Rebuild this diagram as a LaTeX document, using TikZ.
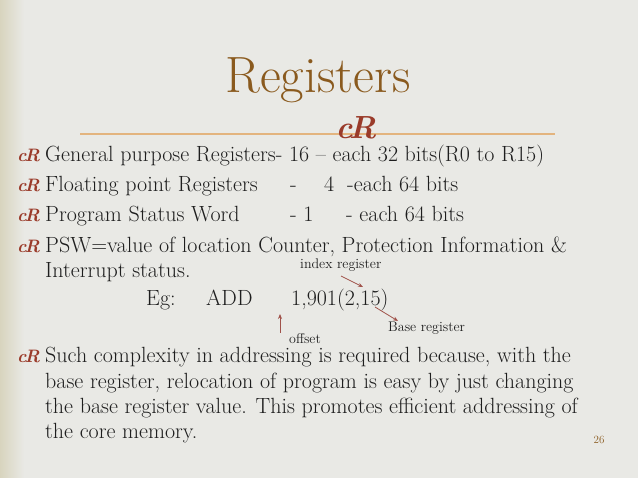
\documentclass[tikz,border=0pt]{standalone}
\usetikzlibrary{arrows.meta}
\definecolor{bg}{HTML}{E9E9E5}
\definecolor{band}{HTML}{D8D4BE}
\definecolor{titlec}{HTML}{8A5A1E}
\definecolor{bul}{HTML}{9A3B2A}
\definecolor{rulec}{HTML}{E3B47E}
\definecolor{arr}{HTML}{A0524A}
\definecolor{txt}{HTML}{1E1E1E}
\newcommand{\bulsym}{{\color{bul}\bfseries\itshape c\kern-0.12em R}}
\begin{document}
\begin{tikzpicture}[x=1pt,y=-1pt,
  body/.style={anchor=base west,inner sep=0pt,font=\fontsize{22}{26}\selectfont,text=txt},
  bullet/.style={anchor=base west,inner sep=0pt,font=\fontsize{18}{20}\selectfont},
  small/.style={anchor=base west,inner sep=0pt,font=\fontsize{14}{16}\selectfont,text=txt},
  pointer/.style={draw=arr,line width=0.8pt,-{Stealth[length=5pt,width=4pt]}}]
\useasboundingbox (0,0) rectangle (638,478);
\fill[bg] (0,0) rectangle (638,478);
\shade[left color=band,right color=bg] (0,0) rectangle (24,478);
\node[anchor=base,inner sep=0pt,font=\fontsize{51}{56}\selectfont,text=titlec] (title) at (318,93) {Registers};
\draw[rulec,line width=1.4pt] (80,134) -- (555,134);
\node[anchor=base,inner sep=0pt,font=\fontsize{32}{34}\selectfont] (orn) at (356,139) {\bulsym};
\foreach \yy/\nm in {162/b1,192/b2,222/b3,253/b4,363/b5}
  \node[bullet] (\nm) at (17,\yy) {\bulsym};
\node[body] (l1) at (45,162) {General purpose Registers- 16 -- each 32 bits(R0 to R15)};
\node[body] (l2) at (45,192) {Floating point Registers};
\node[body] (l2b) at (290,192) {-};
\node[body] (l2c) at (324,192) {4};
\node[body] (l2d) at (347,192) {-each 64 bits};
\node[body] (l3) at (45,222) {Program Status Word};
\node[body] (l3b) at (290,222) {- 1};
\node[body] (l3c) at (346,222) {- each 64 bits};
\node[body] (l4) at (45,253) {PSW=value of location Counter, Protection Information \&};
\node[body] (l5) at (45,278) {Interrupt status.};
\node[small] (idx) at (300,269) {index register};
\node[body] (eg) at (146,306) {Eg:};
\node[body] (add) at (206,306) {ADD};
\node[body,inner sep=1pt] (expr) at (290,306) {1,901(2,15)};
\node[small] (base) at (388,332) {Base register};
\node[small] (off) at (289,344) {offset};
\coordinate (idxend) at (363,287);
\coordinate (offtop) at (280,314);
\coordinate (offbot) at (280,333);
\coordinate (basestart) at (375,307);
\coordinate (baseend) at (398,321);
\draw[pointer] (341,276) -- (idxend);
\draw[pointer] (basestart) -- (baseend);
\draw[pointer] (offbot) -- (offtop);
\node[body] (l6) at (45,363) {Such complexity in addressing is required because, with the};
\node[body] (l7) at (45,389) {base register, relocation of program is easy by just changing};
\node[body] (l8) at (45,414) {the base register value. This promotes efficient addressing of};
\node[body] (l9) at (45,439) {the core memory.};
\node[anchor=base,inner sep=0pt,font=\fontsize{11}{12}\selectfont,text=titlec] (pg) at (599,444) {26};
\end{tikzpicture}
\end{document}
